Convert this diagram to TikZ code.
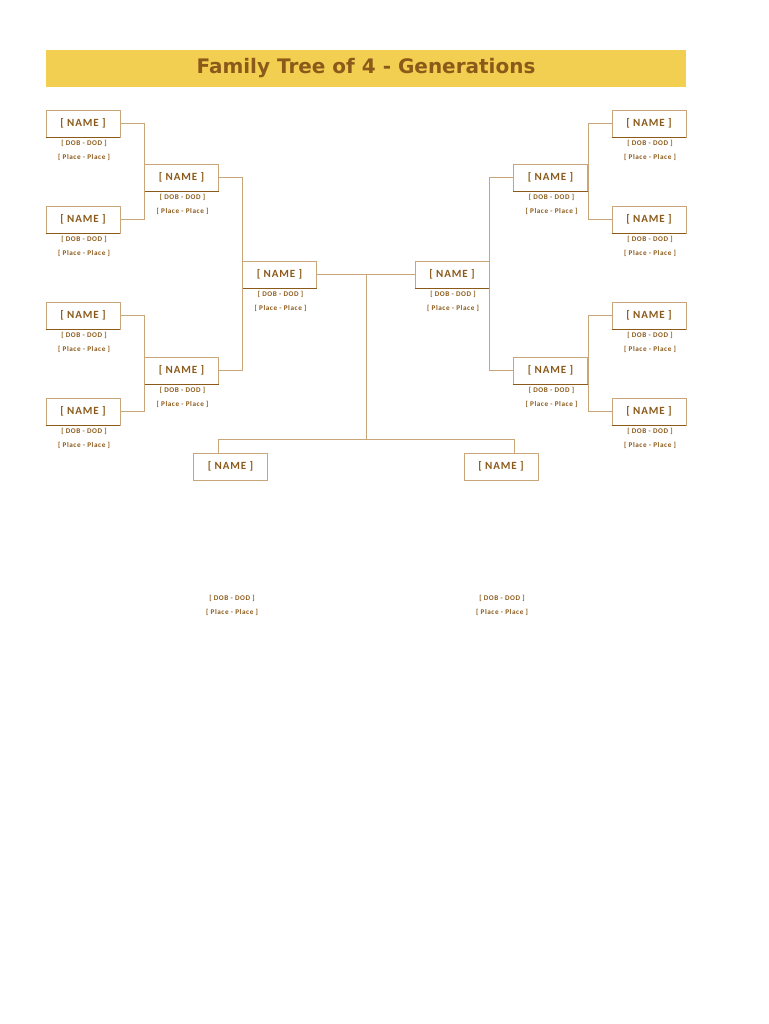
\documentclass[tikz,border=0pt]{standalone}
\usepackage{fontspec}
\setmainfont{Carlito}
\newfontfamily\spaced[LetterSpace=8]{Carlito}
\newfontfamily\titlefont{DejaVu Sans}
\definecolor{brn}{HTML}{8B5A1A}
\definecolor{tan}{HTML}{C9A57A}
\definecolor{ttl}{HTML}{F2CF50}
\tikzset{
  pbox/.style={draw=tan,line width=0.8pt,minimum width=74pt,minimum height=27pt,inner sep=0pt,font=\spaced\bfseries\fontsize{11}{11}\selectfont,text=brn},
  info/.style={font=\spaced\bfseries\fontsize{7.2}{7.2}\selectfont,text=brn,inner sep=0pt},
  conn/.style={draw=tan,line width=0.8pt}
}
\newcommand{\person}[3]{% name, x-center, y-top
  \node[pbox] (#1) at (#2,#3+13.5) {[ NAME ]};
  \draw[brn,line width=0.8pt] (#1.south west) -- (#1.south east);
  \node[info] (#1d) at (#2+1,#3+33) {[ DOB - DOD ]};
  \node[info] (#1p) at (#2+1,#3+47) {[ Place - Place ]};
}
\begin{document}
\begin{tikzpicture}[x=1pt,y=-1pt]
\useasboundingbox (0,0) rectangle (768,1024);
\node[fill=ttl,minimum width=640pt,minimum height=37pt,inner sep=0pt,text=brn,font=\titlefont\bfseries\fontsize{20}{20}\selectfont] (title) at (366,68.5) {Family Tree of 4 - Generations};
% left gen4
\person{a1}{83}{110}
\person{a2}{83}{206}
\person{a3}{83}{302}
\person{a4}{83}{398}
% left gen3
\person{b1}{181.5}{164}
\person{b2}{181.5}{357}
% gen2
\person{c1}{279.5}{261}
\person{c2}{452}{261}
% right gen3
\person{d1}{550.5}{164}
\person{d2}{550.5}{357}
% right gen4
\person{e1}{649}{110}
\person{e2}{649}{206}
\person{e3}{649}{302}
\person{e4}{649}{398}
% bottom
\node[pbox] (f1) at (230.5,466.5) {[ NAME ]};
\node[pbox] (f2) at (501,466.5) {[ NAME ]};
\node[info] (f1d) at (232,598) {[ DOB - DOD ]};
\node[info] (f1p) at (232,612) {[ Place - Place ]};
\node[info] (f2d) at (502,598) {[ DOB - DOD ]};
\node[info] (f2p) at (502,612) {[ Place - Place ]};
% connectors left
\draw[conn] (a1.east) -| (b1.west |- a1.east) -- (b1.west |- a2.east) -- (a2.east);
\draw[conn] (a3.east) -| (b2.west |- a3.east) -- (b2.west |- a4.east) -- (a4.east);
\draw[conn] (b1.east) -| (c1.west |- b1.east) -- (c1.west |- b2.east) -- (b2.east);
% connectors right
\draw[conn] (e1.west) -| (d1.east |- e1.west) -- (d1.east |- e2.west) -- (e2.west);
\draw[conn] (e3.west) -| (d2.east |- e3.west) -- (d2.east |- e4.west) -- (e4.west);
\draw[conn] (d1.west) -| (c2.east |- d1.west) -- (c2.east |- d2.west) -- (d2.west);
% center
\draw[conn] (c1.east) -- (c2.west);
\coordinate (m) at (366,274);
\coordinate (j) at (366,439);
\draw[conn] (m) -- (j);
\draw[conn] (f1.north -| 218,0) -- (218,439) -- (514,439) -- (f2.north -| 514,0);
\end{tikzpicture}
\end{document}
